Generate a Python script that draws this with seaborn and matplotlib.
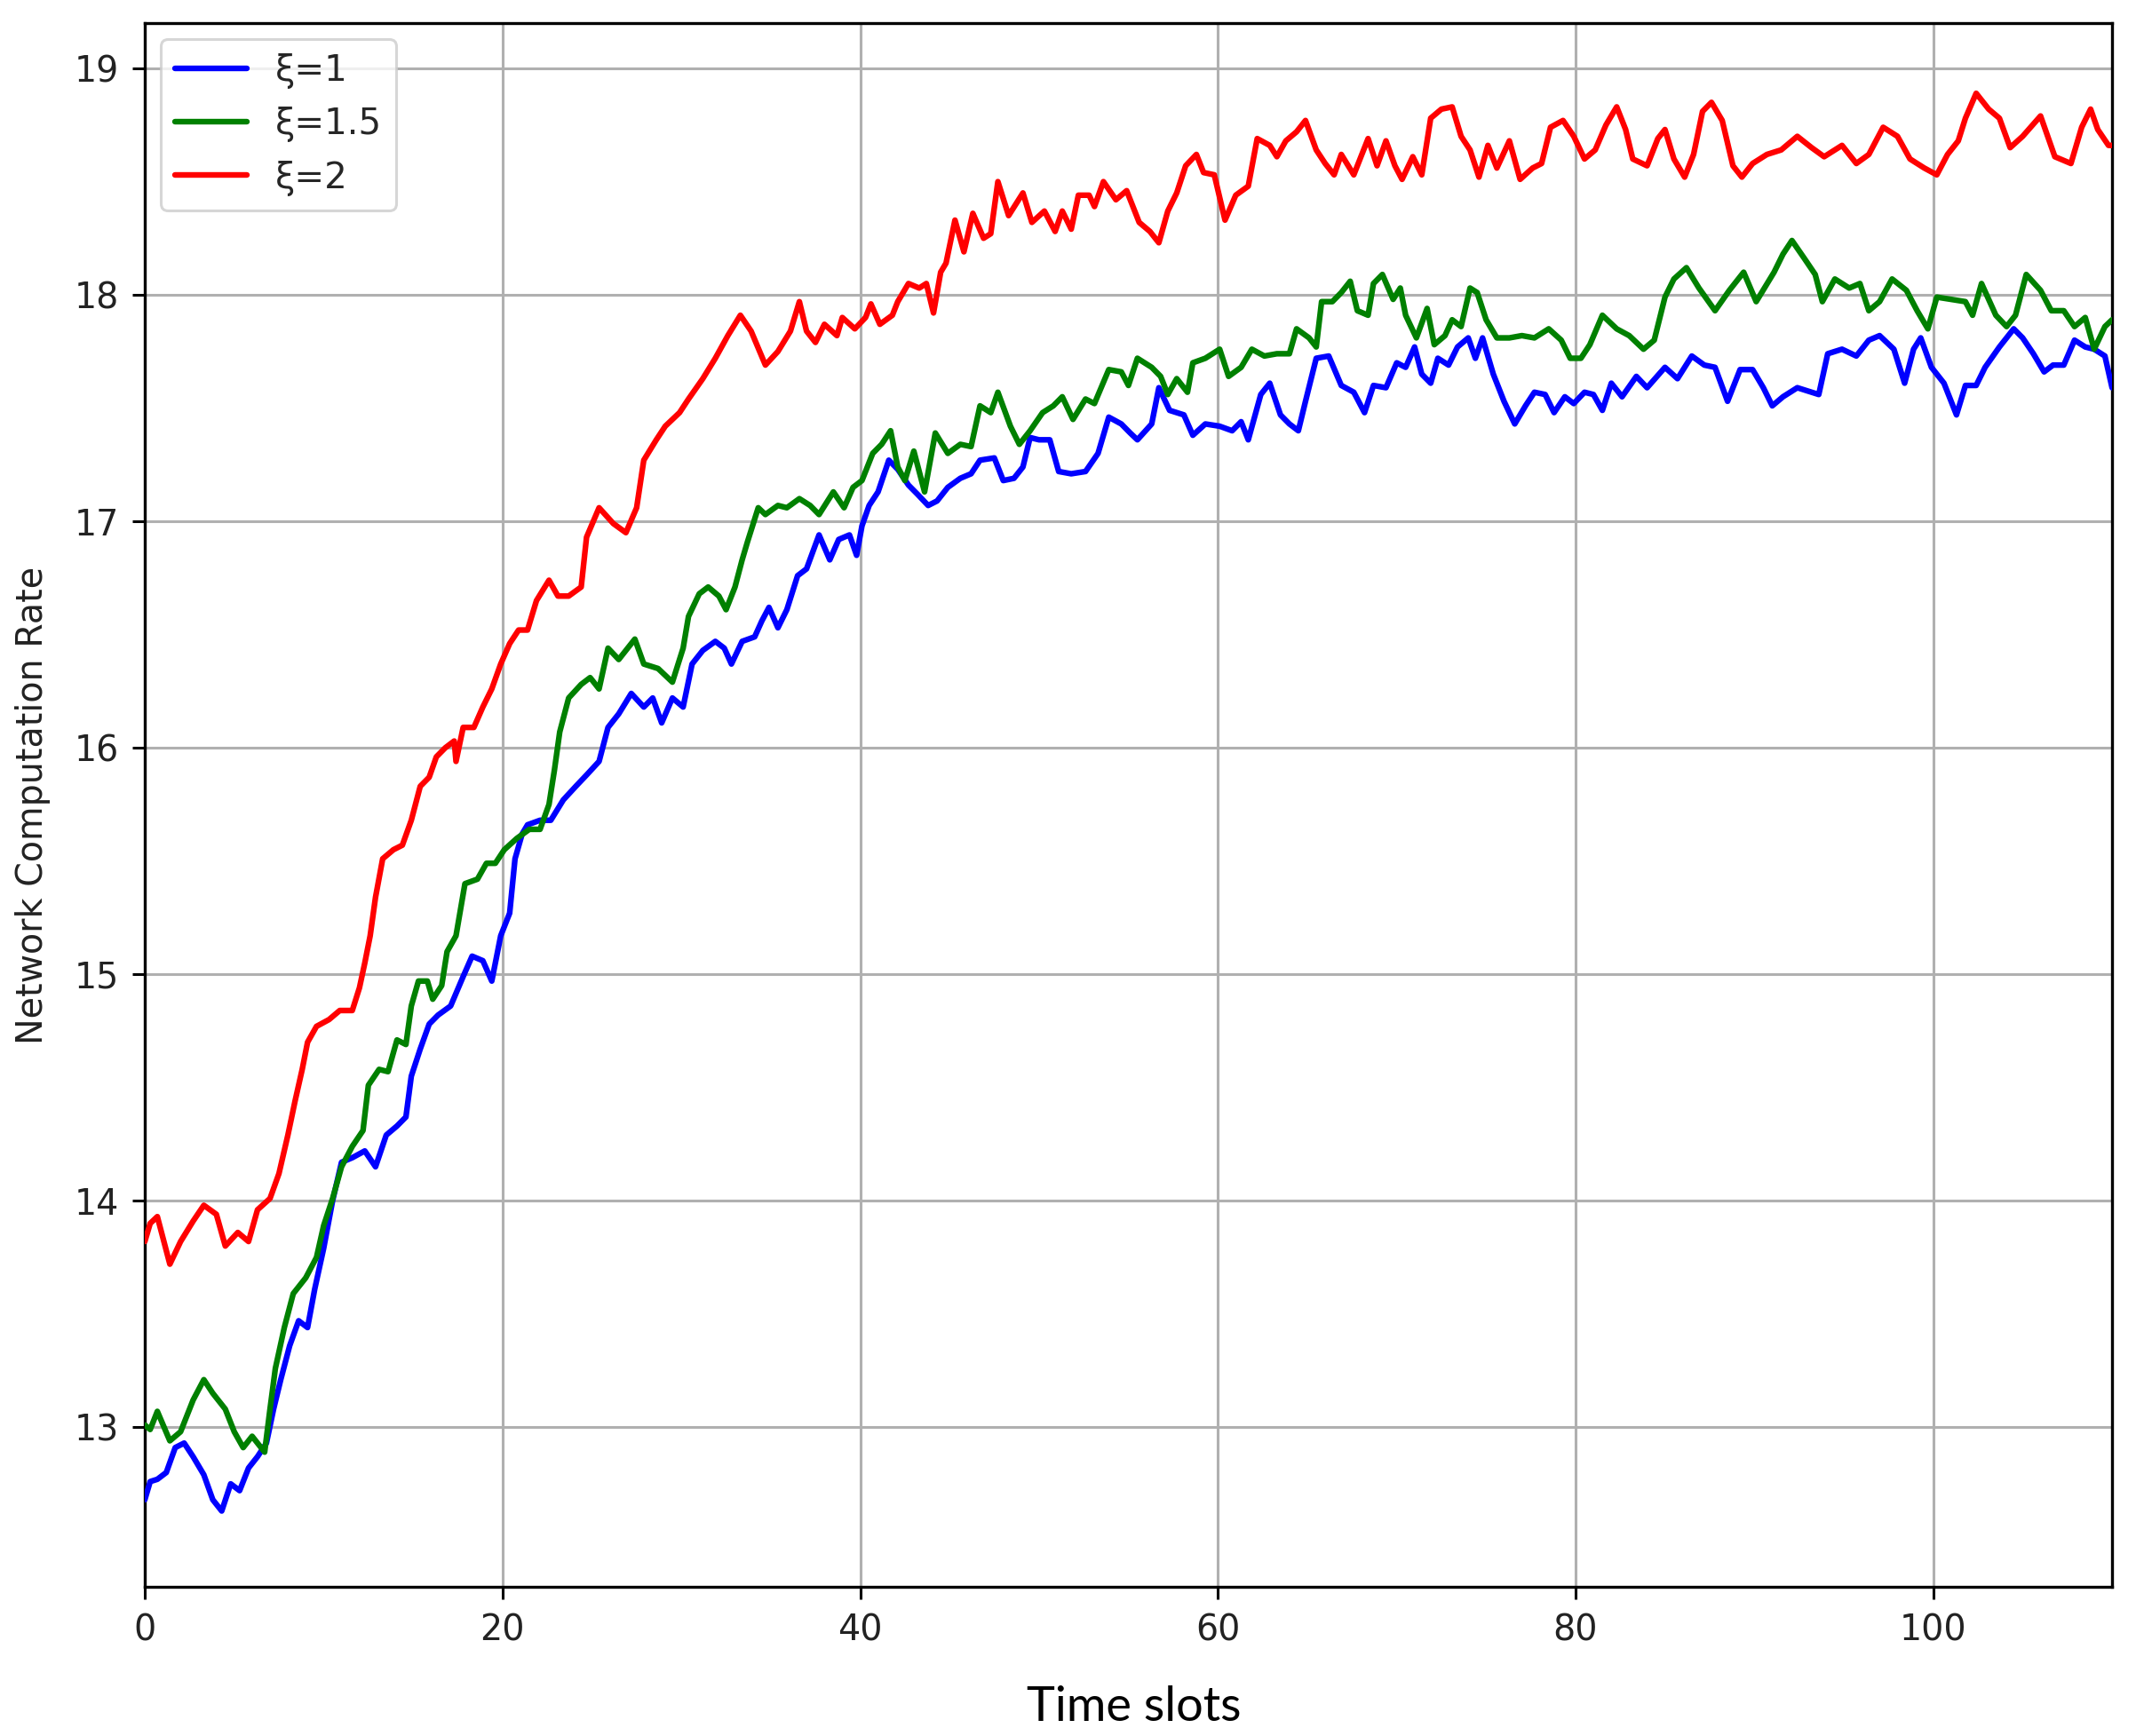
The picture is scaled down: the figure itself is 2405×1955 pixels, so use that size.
import numpy as np
import pandas as pd
import matplotlib
matplotlib.use("Agg")
import matplotlib.pyplot as plt
import seaborn as sns

# ---------------- data ----------------
labels = ["ξ=1", "ξ=1.5", "ξ=2"]
colors = ["blue", "green", "red"]

x_xi1 = [0.0, 0.3, 0.7, 1.2, 1.7, 2.2, 2.7, 3.3, 3.8, 4.3, 4.8, 5.3, 5.8, 6.3, 6.8, 7.2, 7.6, 8.1, 8.6, 9.1,
         9.5, 10.0, 10.5, 11.0, 11.6, 12.3, 12.9, 13.5, 14.1, 14.6, 14.9, 15.4, 15.9, 16.4, 17.1, 17.8, 18.3,
         18.9, 19.4, 19.9, 20.4, 20.7, 21.1, 21.4, 22.1, 22.7, 23.4, 24.1, 24.7, 25.4, 25.9, 26.5, 27.2, 27.9,
         28.4, 28.9, 29.5, 30.1, 30.6, 31.2, 31.9, 32.4, 32.8, 33.4, 34.1, 34.5, 34.9, 35.4, 35.9, 36.5, 37.0,
         37.7, 38.3, 38.8, 39.4, 39.8, 40.1, 40.5, 41.0, 41.6, 42.1, 42.7, 43.2, 43.8, 44.3, 44.9, 45.6, 46.2,
         46.7, 47.5, 48.0, 48.6, 49.1, 49.5, 50.0, 50.6, 51.1, 51.8, 52.6, 53.3, 53.9, 54.6, 55.1, 55.5, 56.3,
         56.7, 57.3, 58.1, 58.6, 59.3, 60.1, 60.8, 61.3, 61.7, 62.4, 62.9, 63.5, 64.0, 64.5, 64.9, 65.5, 66.2,
         66.9, 67.6, 68.2, 68.7, 69.4, 70.0, 70.5, 71.0, 71.4, 71.9, 72.3, 72.9, 73.4, 74.0, 74.4, 74.8, 75.4,
         76.0, 76.6, 77.2, 77.7, 78.3, 78.8, 79.4, 79.9, 80.5, 81.0, 81.5, 82.0, 82.6, 83.4, 84.0, 85.0, 85.7,
         86.5, 87.2, 87.8, 88.5, 89.2, 89.9, 90.5, 91.0, 91.6, 92.4, 93.6, 94.1, 94.9, 95.7, 96.4, 97.0, 97.8,
         98.4, 98.9, 99.3, 99.9, 100.6, 101.3, 101.8, 102.4, 102.9, 103.7, 104.5, 105.0, 105.6, 106.2, 106.7,
         107.3, 107.9, 108.5, 109.0, 109.6, 110.0]
y_xi1 = [12.68, 12.76, 12.77, 12.80, 12.91, 12.93, 12.87, 12.79, 12.68, 12.63, 12.75, 12.72, 12.82, 12.87, 12.93,
         13.08, 13.21, 13.36, 13.47, 13.44, 13.61, 13.79, 14.00, 14.17, 14.19, 14.22, 14.15, 14.29, 14.33, 14.37,
         14.55, 14.67, 14.78, 14.82, 14.86, 14.99, 15.08, 15.06, 14.97, 15.17, 15.27, 15.51, 15.62, 15.66, 15.68,
         15.68, 15.77, 15.83, 15.88, 15.94, 16.09, 16.15, 16.24, 16.18, 16.22, 16.11, 16.22, 16.18, 16.37, 16.43,
         16.47, 16.44, 16.37, 16.47, 16.49, 16.56, 16.62, 16.53, 16.61, 16.76, 16.79, 16.94, 16.83, 16.92, 16.94,
         16.85, 16.98, 17.07, 17.13, 17.27, 17.23, 17.16, 17.12, 17.07, 17.09, 17.15, 17.19, 17.21, 17.27, 17.28,
         17.18, 17.19, 17.24, 17.37, 17.36, 17.36, 17.22, 17.21, 17.22, 17.30, 17.46, 17.43, 17.39, 17.36, 17.43,
         17.59, 17.49, 17.47, 17.38, 17.43, 17.42, 17.40, 17.44, 17.36, 17.56, 17.61, 17.47, 17.43, 17.40, 17.53,
         17.72, 17.73, 17.60, 17.57, 17.48, 17.60, 17.59, 17.70, 17.68, 17.77, 17.65, 17.61, 17.72, 17.69, 17.77,
         17.81, 17.72, 17.81, 17.65, 17.53, 17.43, 17.51, 17.57, 17.56, 17.48, 17.55, 17.52, 17.57, 17.56, 17.49,
         17.61, 17.55, 17.64, 17.59, 17.68, 17.63, 17.73, 17.69, 17.68, 17.53, 17.67, 17.67, 17.59, 17.51, 17.55,
         17.59, 17.56, 17.74, 17.76, 17.73, 17.80, 17.82, 17.76, 17.61, 17.76, 17.81, 17.68, 17.61, 17.47, 17.60,
         17.60, 17.68, 17.77, 17.85, 17.81, 17.74, 17.66, 17.69, 17.69, 17.80, 17.77, 17.76, 17.73, 17.59]

x_xi15 = [0.0, 0.3, 0.7, 1.4, 2.0, 2.7, 3.3, 3.8, 4.5, 5.0, 5.5, 6.0, 6.7, 7.0, 7.3, 7.8, 8.3, 9.0, 9.6, 10.0,
          10.5, 11.0, 11.6, 12.2, 12.5, 13.1, 13.6, 14.1, 14.6, 14.9, 15.3, 15.8, 16.1, 16.6, 16.9, 17.4, 17.9,
          18.6, 19.1, 19.6, 20.1, 20.8, 21.5, 22.1, 22.6, 22.9, 23.2, 23.7, 24.4, 24.9, 25.4, 25.9, 26.5, 27.4,
          27.9, 28.7, 29.5, 30.1, 30.4, 31.0, 31.5, 32.1, 32.5, 33.0, 33.4, 33.7, 34.3, 34.7, 35.4, 35.9, 36.6,
          37.2, 37.7, 38.5, 39.1, 39.6, 40.1, 40.7, 41.2, 41.7, 42.1, 42.5, 43.0, 43.6, 44.2, 44.9, 45.6, 46.2,
          46.7, 47.3, 47.7, 48.4, 48.9, 49.5, 50.2, 50.8, 51.3, 51.9, 52.6, 53.1, 53.9, 54.6, 55.0, 55.5, 56.3,
          56.8, 57.2, 57.7, 58.3, 58.6, 59.3, 60.1, 60.6, 61.3, 61.9, 62.6, 63.3, 64.0, 64.4, 65.1, 65.5, 65.8,
          66.4, 66.9, 67.4, 67.8, 68.4, 68.7, 69.2, 69.8, 70.2, 70.5, 71.1, 71.7, 72.1, 72.7, 73.1, 73.6, 74.1,
          74.5, 75.0, 75.6, 76.3, 77.0, 77.7, 78.5, 79.2, 79.7, 80.3, 80.8, 81.5, 82.3, 83.0, 83.8, 84.4, 85.0,
          85.5, 86.2, 86.9, 87.8, 88.6, 89.4, 90.1, 91.1, 91.6, 92.1, 92.8, 93.4, 93.8, 94.5, 95.3, 95.9, 96.4,
          97.0, 97.7, 98.5, 99.1, 99.7, 100.2, 101.0, 101.8, 102.2, 102.7, 103.5, 104.1, 104.6, 105.2, 106.0,
          106.6, 107.3, 107.9, 108.5, 109.0, 109.6, 110.0]
y_xi15 = [13.01, 12.99, 13.07, 12.94, 12.98, 13.12, 13.21, 13.15, 13.08, 12.98, 12.91, 12.96, 12.89, 13.08, 13.26,
          13.44, 13.59, 13.66, 13.75, 13.89, 14.01, 14.15, 14.24, 14.31, 14.51, 14.58, 14.57, 14.71, 14.69, 14.86,
          14.97, 14.97, 14.89, 14.95, 15.10, 15.17, 15.40, 15.42, 15.49, 15.49, 15.55, 15.60, 15.64, 15.64, 15.75,
          15.90, 16.07, 16.22, 16.28, 16.31, 16.26, 16.44, 16.39, 16.48, 16.37, 16.35, 16.29, 16.44, 16.58, 16.68,
          16.71, 16.67, 16.61, 16.71, 16.83, 16.91, 17.06, 17.03, 17.07, 17.06, 17.10, 17.07, 17.03, 17.13, 17.06,
          17.15, 17.18, 17.30, 17.34, 17.40, 17.24, 17.18, 17.31, 17.13, 17.39, 17.30, 17.34, 17.33, 17.51, 17.48,
          17.57, 17.42, 17.34, 17.40, 17.48, 17.51, 17.55, 17.45, 17.54, 17.52, 17.67, 17.66, 17.60, 17.72, 17.68,
          17.64, 17.56, 17.63, 17.57, 17.70, 17.72, 17.76, 17.64, 17.68, 17.76, 17.73, 17.74, 17.74, 17.85, 17.81,
          17.77, 17.97, 17.97, 18.01, 18.06, 17.93, 17.91, 18.05, 18.09, 17.98, 18.03, 17.91, 17.81, 17.94, 17.78,
          17.82, 17.89, 17.86, 18.03, 18.01, 17.89, 17.81, 17.81, 17.82, 17.81, 17.85, 17.80, 17.72, 17.72, 17.78,
          17.91, 17.85, 17.82, 17.76, 17.80, 17.99, 18.07, 18.12, 18.03, 17.93, 18.02, 18.10, 17.97, 18.10, 18.18,
          18.24, 18.16, 18.09, 17.97, 18.07, 18.03, 18.05, 17.93, 17.97, 18.07, 18.02, 17.93, 17.85, 17.99, 17.98,
          17.97, 17.91, 18.05, 17.91, 17.86, 17.91, 18.09, 18.02, 17.93, 17.93, 17.86, 17.90, 17.76, 17.86, 17.89]

x_xi2 = [0.0, 0.3, 0.7, 1.4, 2.0, 2.7, 3.3, 4.0, 4.5, 5.2, 5.8, 6.3, 7.0, 7.5, 8.0, 8.4, 8.8, 9.1, 9.6, 10.3,
         10.9, 11.6, 12.0, 12.3, 12.6, 12.9, 13.3, 13.9, 14.4, 14.9, 15.4, 15.9, 16.3, 16.8, 17.3, 17.4, 17.8,
         18.4, 18.9, 19.4, 19.9, 20.4, 20.9, 21.4, 21.9, 22.6, 23.1, 23.7, 24.4, 24.7, 25.4, 26.2, 26.9, 27.5,
         27.9, 28.6, 29.1, 29.9, 30.4, 31.2, 31.9, 32.6, 33.3, 33.9, 34.7, 35.4, 36.1, 36.6, 37.0, 37.5, 38.0,
         38.7, 39.0, 39.7, 40.3, 40.6, 41.1, 41.8, 42.1, 42.7, 43.3, 43.7, 44.1, 44.5, 44.8, 45.3, 45.8, 46.3,
         46.9, 47.3, 47.7, 48.3, 49.1, 49.6, 50.3, 50.9, 51.3, 51.8, 52.2, 52.8, 53.1, 53.6, 54.3, 54.9, 55.6,
         56.2, 56.7, 57.2, 57.7, 58.2, 58.8, 59.2, 59.8, 60.4, 61.0, 61.7, 62.2, 62.9, 63.3, 63.8, 64.4, 64.9,
         65.5, 66.0, 66.5, 66.9, 67.6, 68.4, 68.9, 69.4, 69.9, 70.3, 70.9, 71.4, 71.9, 72.5, 73.1, 73.6, 74.1,
         74.6, 75.1, 75.6, 76.3, 76.9, 77.6, 78.1, 78.6, 79.3, 79.9, 80.5, 81.1, 81.7, 82.3, 82.8, 83.2, 84.0,
         84.6, 85.0, 85.5, 86.1, 86.6, 87.1, 87.6, 88.2, 88.8, 89.3, 89.9, 90.7, 91.5, 92.4, 93.2, 93.9, 94.9,
         95.7, 96.4, 97.2, 98.0, 98.7, 99.5, 100.2, 100.8, 101.4, 101.8, 102.4, 103.1, 103.7, 104.3, 105.0,
         106.0, 106.8, 107.7, 108.3, 108.8, 109.2, 109.8, 110.0]
y_xi2 = [13.82, 13.90, 13.93, 13.72, 13.82, 13.91, 13.98, 13.94, 13.80, 13.86, 13.82, 13.96, 14.01, 14.12, 14.29,
         14.44, 14.58, 14.70, 14.77, 14.80, 14.84, 14.84, 14.94, 15.05, 15.17, 15.34, 15.51, 15.55, 15.57, 15.68,
         15.83, 15.87, 15.96, 16.00, 16.03, 15.94, 16.09, 16.09, 16.18, 16.26, 16.37, 16.46, 16.52, 16.52, 16.65,
         16.74, 16.67, 16.67, 16.71, 16.93, 17.06, 16.99, 16.95, 17.06, 17.27, 17.36, 17.42, 17.48, 17.54, 17.63,
         17.72, 17.82, 17.91, 17.84, 17.69, 17.75, 17.84, 17.97, 17.84, 17.79, 17.87, 17.82, 17.90, 17.85, 17.90,
         17.96, 17.87, 17.91, 17.97, 18.05, 18.03, 18.05, 17.92, 18.10, 18.14, 18.33, 18.19, 18.36, 18.25, 18.27,
         18.50, 18.35, 18.45, 18.32, 18.37, 18.28, 18.37, 18.29, 18.44, 18.44, 18.39, 18.50, 18.42, 18.46, 18.32,
         18.28, 18.23, 18.37, 18.45, 18.57, 18.62, 18.54, 18.53, 18.33, 18.44, 18.48, 18.69, 18.66, 18.61, 18.68,
         18.72, 18.77, 18.64, 18.58, 18.53, 18.62, 18.53, 18.69, 18.57, 18.68, 18.57, 18.51, 18.61, 18.53, 18.78,
         18.82, 18.83, 18.70, 18.64, 18.52, 18.66, 18.56, 18.68, 18.51, 18.56, 18.58, 18.74, 18.77, 18.70, 18.60,
         18.64, 18.75, 18.83, 18.73, 18.60, 18.57, 18.69, 18.73, 18.60, 18.52, 18.62, 18.81, 18.85, 18.77, 18.57,
         18.52, 18.58, 18.62, 18.64, 18.70, 18.65, 18.61, 18.66, 18.58, 18.62, 18.74, 18.70, 18.60, 18.56, 18.53,
         18.62, 18.68, 18.78, 18.89, 18.82, 18.78, 18.65, 18.70, 18.79, 18.61, 18.58, 18.74, 18.82, 18.73, 18.66,
         18.66]

x_ticks = [0, 20, 40, 60, 80, 100]
y_ticks = [13, 14, 15, 16, 17, 18, 19]
x_label = "Time slots"
y_label = "Network Computation Rate"

# ---------------- build long-form table ----------------
frames = []
for lab, xs, ys in zip(labels, [x_xi1, x_xi15, x_xi2], [y_xi1, y_xi15, y_xi2]):
    frames.append(pd.DataFrame({"t": xs, "rate": ys, "series": lab}))
df = pd.concat(frames, ignore_index=True)

# ---------------- style ----------------
sns.set_style("white")
plt.rcParams["font.family"] = ["DejaVu Sans"]
plt.rcParams["axes.unicode_minus"] = False

fig = plt.figure(figsize=(24.05, 19.55), dpi=100)
ax = fig.add_axes([0.0678, 0.0859, 0.921, 0.9008])

sns.lineplot(data=df, x="t", y="rate", hue="series", hue_order=labels,
             palette=dict(zip(labels, colors)), estimator=None, sort=False,
             linewidth=4.6, ax=ax, zorder=3)

ax.set_xlim(0, 110)
ax.set_ylim(12.295, 19.2)
ax.set_xticks(x_ticks)
ax.set_yticks(y_ticks)
ax.grid(True, color="#b0b0b0", linewidth=2.2, zorder=0)
ax.set_axisbelow(True)

for s in ax.spines.values():
    s.set_color("black")
    s.set_linewidth(2.4)
    s.set_visible(True)

ax.tick_params(axis="both", which="major", direction="out", length=10, width=2.2,
               pad=11, labelsize=28.5, colors="black", labelcolor="#222222",
               bottom=True, left=True)

ax.set_ylabel(y_label, fontsize=28.5, color="#222222")
ax.yaxis.set_label_coords(-0.048, 0.5)
ax.set_xlabel(x_label, fontsize=39, family=["Lato", "DejaVu Sans"], color="black")
ax.xaxis.set_label_coords(0.503, -0.063)

handles, labs = ax.get_legend_handles_labels()
leg = ax.legend(handles, labs, loc="upper left", fontsize=29, frameon=True,
                fancybox=True, framealpha=0.8, edgecolor="#cccccc",
                handlelength=2.0, borderaxespad=0.45, labelspacing=0.5)
for line in leg.get_lines():
    line.set_linewidth(4.6)
leg.get_frame().set_linewidth(2.2)

fig.savefig("out.png", dpi=100, facecolor="white")
